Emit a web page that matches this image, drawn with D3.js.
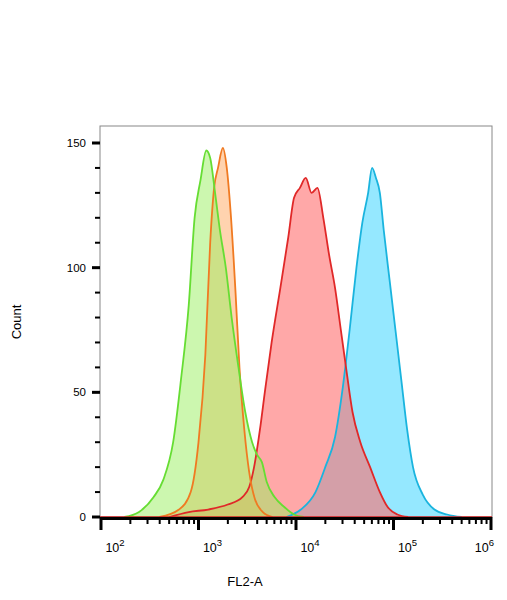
<!DOCTYPE html><html><head><meta charset="utf-8"><script src="https://cdn.jsdelivr.net/npm/d3@7"></script>
<style>body{margin:0;background:#fff}text{font-family:Arial,"Liberation Sans",sans-serif}</style></head><body>
<svg id="c" width="507" height="600"></svg>
<script>
const green=[[2.24,0],[2.39,2],[2.54,8],[2.64,15],[2.74,30],[2.82,55],[2.9,85],[2.96,120],[3.02,135],[3.08,147],[3.12,144],[3.17,130],[3.22,115],[3.28,100],[3.34,80],[3.41,60],[3.48,42],[3.55,30],[3.6,25],[3.65,22],[3.7,14],[3.78,8],[3.88,4],[3.98,1],[4.08,0]];
const orange=[[2.6,0],[2.8,3],[2.92,10],[3.0,30],[3.07,65],[3.12,110],[3.16,132],[3.2,140],[3.25,148],[3.29,140],[3.33,122],[3.38,90],[3.42,60],[3.47,35],[3.52,18],[3.58,7],[3.66,2],[3.76,0]];
const red=[[2.7,0],[2.9,2],[3.1,3],[3.3,5],[3.45,8],[3.52,12],[3.57,20],[3.63,35],[3.68,50],[3.75,70],[3.84,92],[3.92,112],[3.98,128],[4.04,132],[4.1,136],[4.16,130],[4.22,132],[4.28,120],[4.34,105],[4.4,92],[4.46,75],[4.52,58],[4.58,42],[4.66,30],[4.76,20],[4.86,10],[4.94,4],[5.04,1],[5.15,0]];
const blue=[[3.9,0],[4.05,3],[4.2,10],[4.3,20],[4.4,32],[4.48,52],[4.55,75],[4.62,100],[4.68,118],[4.74,130],[4.78,140],[4.82,136],[4.86,130],[4.9,115],[4.96,95],[5.02,75],[5.08,55],[5.14,35],[5.2,20],[5.3,9],[5.42,3],[5.55,1],[5.7,0]];
const series=[
 {d:blue,fill:"#4fd8ff",stroke:"#1ab4de",op:0.6},
 {d:red,fill:"#ff6e6e",stroke:"#e02828",op:0.6},
 {d:orange,fill:"#ffa860",stroke:"#f07a22",op:0.5},
 {d:green,fill:"#9af060",stroke:"#66dd33",op:0.5}];
const yTicks=[0,50,100,150];
const xDecades=[2,3,4,5,6];
const svg=d3.select("#c");
const x=d3.scaleLinear().domain([2,6]).range([101,491]);
const y=d3.scaleLinear().domain([0,150]).range([517,143]);
svg.append("rect").attr("x",100).attr("y",126).attr("width",392).attr("height",391).attr("fill","none").attr("stroke","#888").attr("stroke-width",1);
const area=d3.area().x(d=>x(d[0])).y0(y(0)).y1(d=>y(d[1])).curve(d3.curveMonotoneX);
const line=d3.line().x(d=>x(d[0])).y(d=>y(d[1])).curve(d3.curveMonotoneX);
series.forEach(s=>{
 svg.append("path").attr("d",area(s.d)).attr("fill",s.fill).attr("fill-opacity",s.op);
});
series.forEach(s=>{
 svg.append("path").attr("d",line(s.d)).attr("fill","none").attr("stroke",s.stroke).attr("stroke-width",1.8);
});
svg.append("line").attr("x1",100).attr("x2",492).attr("y1",517).attr("y2",517).attr("stroke","#d02020").attr("stroke-width",1.5);
d3.range(0,151,10).forEach(v=>{
 const major=v%50===0;
 svg.append("line").attr("x1",major?92:95).attr("x2",100).attr("y1",y(v)).attr("y2",y(v)).attr("stroke","#000").attr("stroke-width",major?3:2);
});
yTicks.forEach(v=>svg.append("text").attr("x",86).attr("y",y(v)+4).attr("text-anchor","end").attr("font-size",11.5).text(v));
svg.append("line").attr("x1",100).attr("x2",492).attr("y1",518.5).attr("y2",518.5).attr("stroke","#000").attr("stroke-width",3);
xDecades.forEach((e,i)=>{
 svg.append("line").attr("x1",x(e)).attr("x2",x(e)).attr("y1",517).attr("y2",530).attr("stroke","#000").attr("stroke-width",3);
 if(i<xDecades.length-1) for(let k=2;k<=9;k++){
  const p=x(e+Math.log10(k));
  svg.append("line").attr("x1",p).attr("x2",p).attr("y1",517).attr("y2",524).attr("stroke","#000").attr("stroke-width",2);
 }
 const last=i===xDecades.length-1;
 const t=svg.append("text").attr("x",last?x(e)+3:x(e)+14).attr("y",552).attr("text-anchor",last?"end":"middle").attr("font-size",12.5);
 t.append("tspan").text("10");
 t.append("tspan").attr("dy",-6).attr("font-size",9.5).text(e);
});
svg.append("text").attr("x",245).attr("y",586).attr("text-anchor","middle").attr("font-size",13).text("FL2-A");
svg.append("text").attr("transform","translate(21,322) rotate(-90)").attr("text-anchor","middle").attr("font-size",13).text("Count");
</script></body></html>
